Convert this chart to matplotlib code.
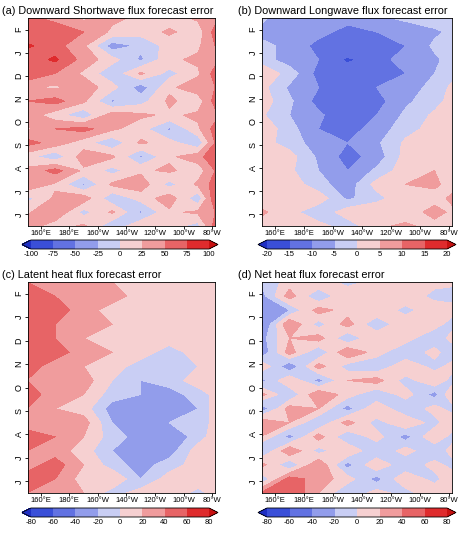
import numpy as np
import matplotlib
matplotlib.use("Agg")
import matplotlib.pyplot as plt
from matplotlib.colors import ListedColormap, BoundaryNorm

plt.rcParams['font.family'] = ['Liberation Sans', 'DejaVu Sans']
plt.rcParams['axes.unicode_minus'] = False

lons = [150, 170, 190, 210, 230, 250, 270, 282]
times = list(np.linspace(0, 9, 16))
month_labels = ["J", "J", "A", "S", "O", "N", "D", "J", "F"]
xtick_vals = [160, 180, 200, 220, 240, 260, 280]
xtick_labels = ["160°E", "180°E", "160°W", "140°W", "120°W", "100°W", "80°W"]

titles = ["(a) Downward Shortwave flux forecast error",
          "(b) Downward Longwave flux forecast error",
          "(c) Latent heat flux forecast error",
          "(d) Net heat flux forecast error"]
levels_a = [-100, -75, -50, -25, 0, 25, 50, 75, 100]
levels_b = [-20, -15, -10, -5, 0, 5, 10, 15, 20]
levels_c = [-80, -60, -40, -20, 0, 20, 40, 60, 80]
levels_d = [-80, -60, -40, -20, 0, 20, 40, 60, 80]

err_a = [[40,10,30,-20,20,10,-10,60],[20,50,-10,30,-30,20,30,50],[-10,30,40,-20,10,40,-20,70],
 [50,20,-30,30,40,-10,30,60],[30,60,20,-10,20,30,10,50],[10,-20,40,30,-30,20,40,70],
 [60,40,10,-20,30,10,-20,50],[20,50,60,30,10,-30,20,60],[40,10,-20,40,30,20,30,40],
 [50,60,30,-30,-10,30,10,60],[30,20,40,10,-40,20,40,50],[70,50,20,-20,30,-10,20,60],
 [60,80,40,10,-30,20,30,40],[80,60,30,-40,-20,10,20,50],[50,70,50,20,10,30,10,60],
 [60,40,20,30,20,10,30,40]]
err_b = [[3,5,2,-3,4,6,3,5],[6,2,-4,3,5,2,7,4],[2,4,3,-6,-2,4,3,6],[5,3,-3,-8,2,5,6,3],
 [4,1,-5,-10,-4,3,5,4],[3,2,-6,-12,-8,2,4,3],[2,-2,-8,-10,-6,1,3,5],[4,-3,-10,-12,-8,-2,2,4],
 [1,-5,-9,-14,-10,-4,1,3],[3,-4,-12,-10,-12,-6,-2,2],[2,-6,-10,-14,-10,-8,-3,1],
 [4,-2,-12,-12,-14,-10,-5,-2],[-2,-8,-10,-16,-12,-8,-6,-3],[-4,-6,-12,-10,-14,-10,-4,-1],
 [-6,-10,-8,-12,-10,-8,-6,-4],[-4,-8,-10,-8,-6,-4,-2,-1]]
err_c = [[40,30,20,-10,10,20,-10,10],[50,40,10,20,-20,10,20,5],[30,50,20,-10,-30,-10,10,20],
 [40,30,10,-20,-40,-30,10,5],[50,40,20,-10,-30,-40,-10,10],[30,40,30,-20,-40,-20,-10,5],
 [40,20,10,-30,-30,-40,-20,10],[50,30,20,-10,-20,-30,-10,5],[40,40,30,0,-20,-10,10,10],
 [50,30,20,10,-10,-20,0,5],[40,50,30,20,10,-10,10,10],[60,40,20,10,0,10,5,5],
 [50,40,30,20,10,0,10,5],[40,50,30,10,10,10,5,5],[50,40,20,30,10,5,10,5],[40,30,30,20,10,10,5,5]]
err_d = [[40,60,20,-20,10,-10,20,10],[-20,50,30,10,-30,20,-10,20],[30,-20,40,-30,20,-20,10,-10],
 [-30,40,-10,20,-20,10,-20,10],[20,-30,30,-20,10,-30,20,-10],[40,20,-20,30,-10,20,-10,20],
 [-40,30,20,-30,20,-20,10,-10],[30,-20,40,10,-20,10,-30,20],[-30,20,-30,20,30,-10,20,-10],
 [20,-40,30,-10,-20,20,-10,10],[-40,30,-20,40,10,-20,10,-20],[-30,20,30,-20,20,10,-20,10],
 [-50,40,-10,30,-20,20,10,-10],[-40,-20,30,10,20,-10,20,10],[-30,30,-20,20,10,20,-10,-10],
 [-20,10,20,-10,10,10,10,5]]

cols = ['#3a4fd8', '#6272e2', '#929deb', '#c9cef4', '#f6d0d1', '#f09c9d', '#e76466', '#df2b2d']
cmap = ListedColormap(cols)
cmap.set_under('#1f2fc4')
cmap.set_over('#c81010')

fig = plt.figure(figsize=(4.74, 5.38), dpi=100)
W, H = 474, 538
boxes = [(28, 18, 215, 226), (262, 18, 452, 226), (28, 282, 215, 493), (262, 282, 452, 493)]
cbars = [(22, 240, 218, 249), (258, 240, 456, 249), (22, 508, 218, 517), (258, 508, 456, 517)]
datas = [err_a, err_b, err_c, err_d]
levs = [levels_a, levels_b, levels_c, levels_d]

for i in range(4):
    x0, y0, x1, y1 = boxes[i]
    ax = fig.add_axes([x0 / W, 1 - y1 / H, (x1 - x0) / W, (y1 - y0) / H])
    norm = BoundaryNorm(levs[i], cmap.N)
    cf = ax.contourf(lons, times, np.array(datas[i]), levels=levs[i], cmap=cmap, norm=norm, extend='both')
    ax.set_xlim(151, 282)
    ax.set_ylim(0, 9)
    ax.set_xticks(xtick_vals)
    ax.set_xticklabels(xtick_labels, fontsize=5.5)
    ax.set_yticks([k + 0.5 for k in range(9)])
    ax.set_yticklabels(month_labels, fontsize=6.5, rotation=90, va='center')
    ax.tick_params(length=2, pad=1.2, width=0.6)
    for s in ax.spines.values():
        s.set_linewidth(0.6)
    ax.text(x0 - 26 if i % 2 == 0 else x0 - 24, H - y0 + 2, titles[i], transform=None,
            fontsize=7.8, ha='left', va='bottom')
    cx0, cy0, cx1, cy1 = cbars[i]
    cax = fig.add_axes([cx0 / W, 1 - cy1 / H, (cx1 - cx0) / W, (cy1 - cy0) / H])
    cb = fig.colorbar(cf, cax=cax, orientation='horizontal', ticks=levs[i], extendfrac=0.05)
    cb.ax.tick_params(labelsize=5.5, length=0, pad=1.5)
    cb.outline.set_linewidth(0.6)

fig.savefig("out.png", dpi=100)
